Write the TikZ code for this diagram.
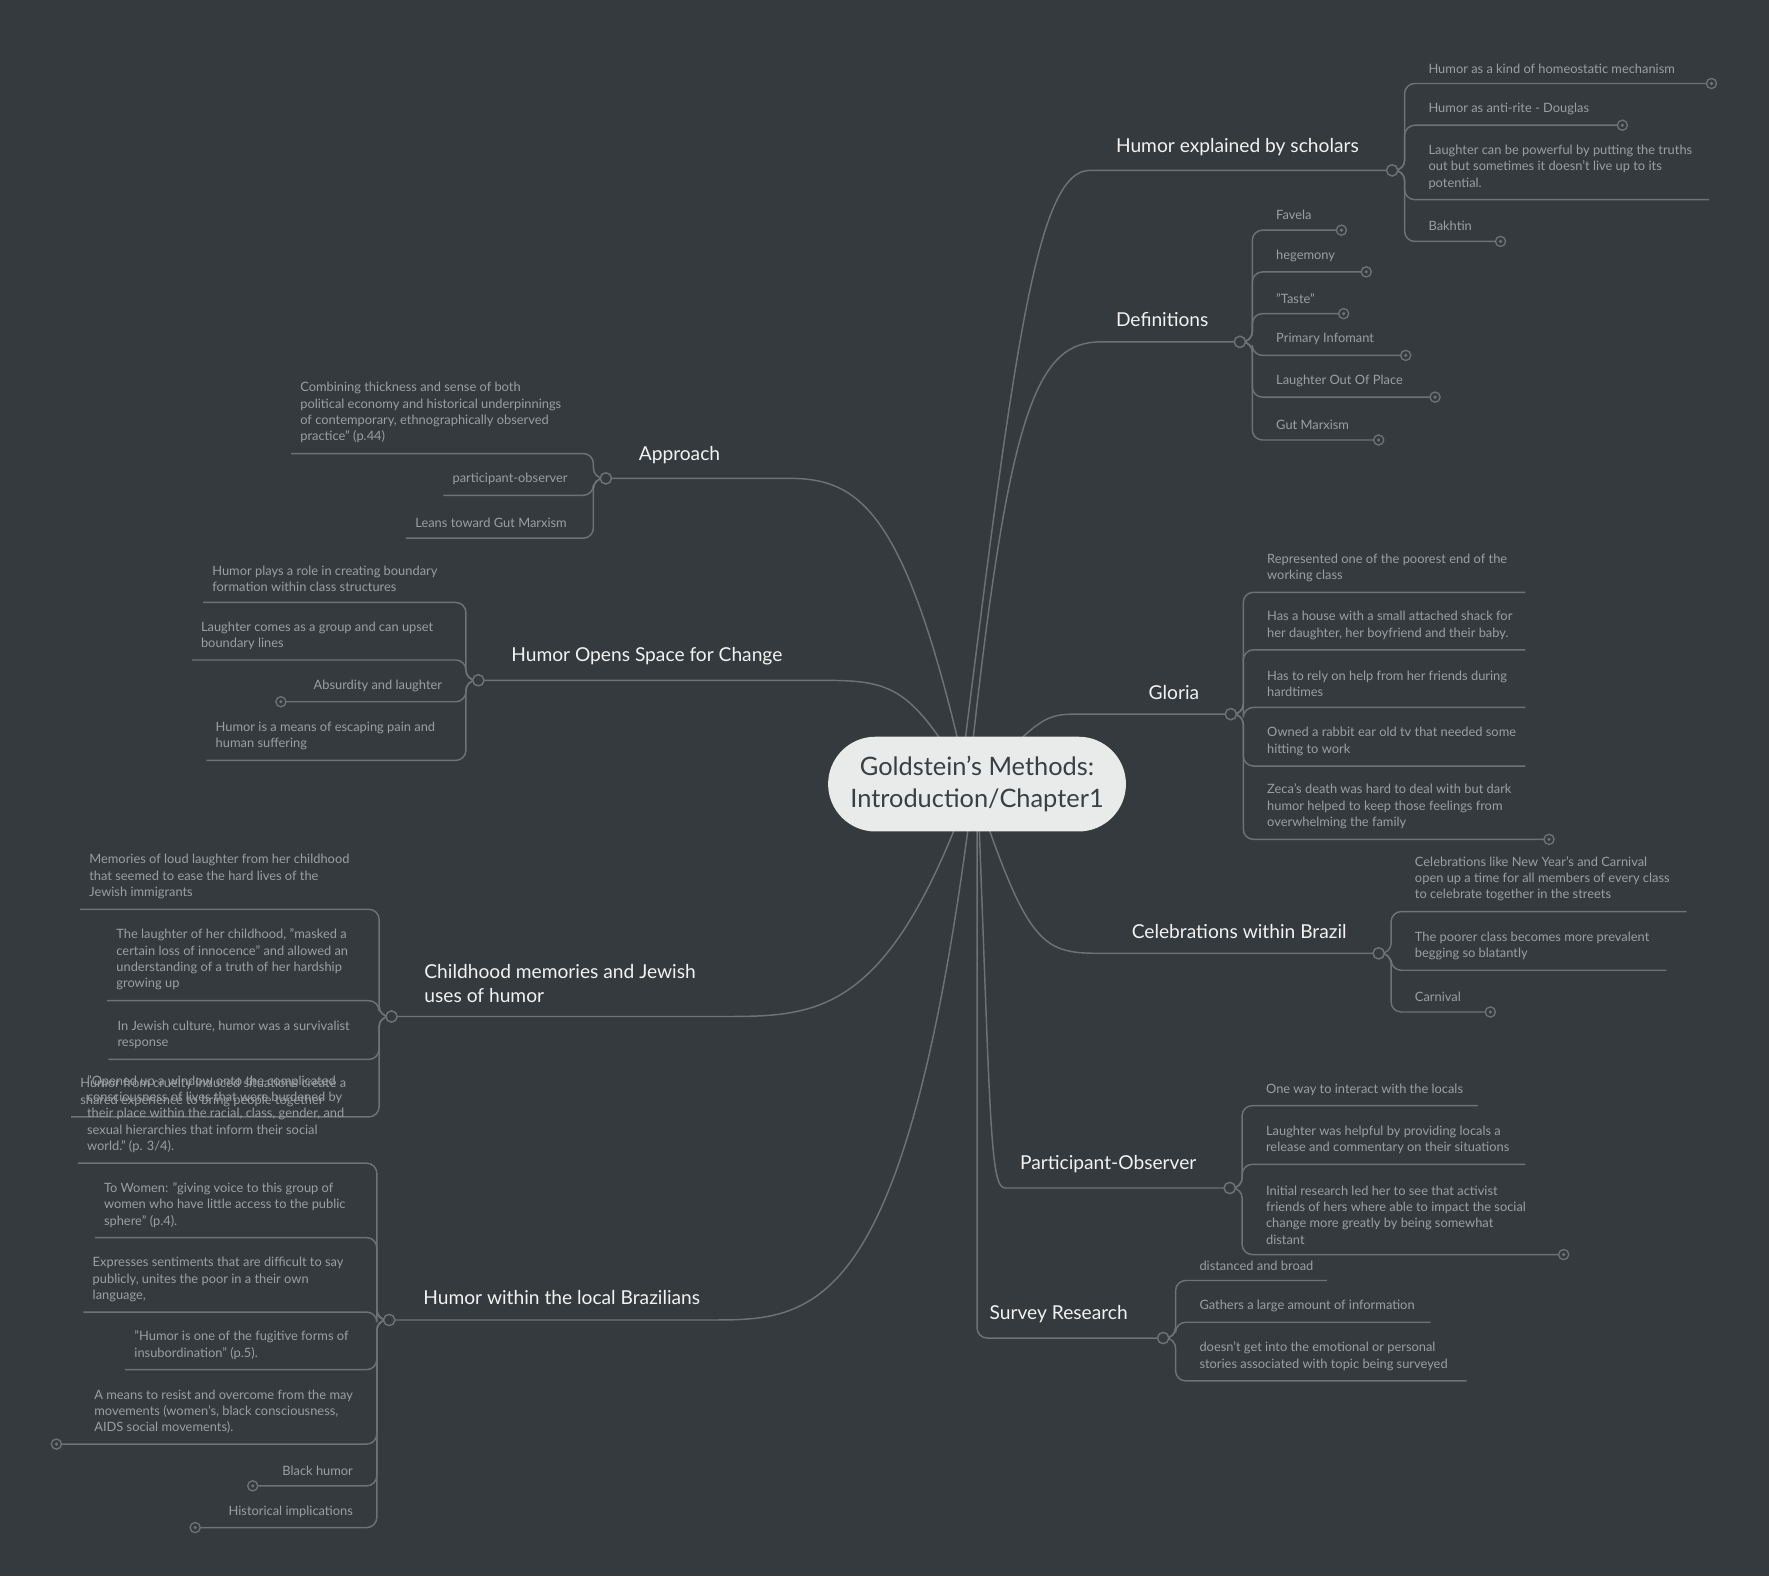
\documentclass[tikz,border=0pt]{standalone}
\usepackage{fontspec}
\setmainfont{Lato}
\definecolor{bg}{HTML}{343A3D}
\definecolor{ln}{HTML}{6E7274}
\definecolor{st}{HTML}{9C9FA1}
\definecolor{mt}{HTML}{F2F2F2}
\definecolor{rootf}{HTML}{E8EBEA}
\definecolor{roott}{HTML}{3A3F42}
\tikzset{
 conn/.style={draw=ln,line width=1.3pt,rounded corners=9pt},
 smalltxt/.style={text=st,font=\fontsize{11.4}{14.5}\selectfont,align=left,inner sep=0pt},
 maintxt/.style={text=mt,font=\fontsize{17}{21.5}\selectfont,align=left,inner sep=0pt},
 junc/.style={draw=ln,line width=1.3pt,fill=bg,circle,minimum size=10pt,inner sep=0pt},
}
\newcommand{\mkr}[2]{\draw[ln,line width=1.2pt,fill=bg] (#1,#2) circle (4.5pt); \fill[ln] (#1,#2) circle (1.6pt);}
% right child: name, cx, cy, ly, ex, marker, text
\newcommand{\rc}[7]{%
 \draw[conn] (#2,#3) -- (#2+11,#3) -- (#2+11,#4) -- (#5,#4);
 \node[smalltxt,anchor=south west] (#1) at (#2+32,#4-9) {#7};
 \ifnum#6=1 \mkr{#5}{#4}\fi}
% left child: name, cx, cy, ly, sx, marker, text
\newcommand{\lc}[7]{%
 \draw[conn] (#2,#3) -- (#2-11,#3) -- (#2-11,#4) -- (#5,#4);
 \ifnum#6=1
 \node[smalltxt,anchor=south east] (#1) at (#2-32,#4-9) {#7};
 \mkr{#5}{#4}
 \else
 \node[smalltxt,anchor=south west] (#1) at (#5+8,#4-9) {#7};
 \fi}
\begin{document}
\begin{tikzpicture}[x=1pt,y=-1pt]
\fill[bg] (0,0) rectangle (1568,1397);
\useasboundingbox (0,0) rectangle (1568,1397);
% main connectors
\draw[conn] (855,660) .. controls (900,300) and (920,151) .. (975,151) -- (1234,151);
\draw[conn] (862,660) .. controls (895,360) and (920,303) .. (985,303) -- (1099,303);
\draw[conn] (895,665) .. controls (925,633) and (935,633) .. (965,633) -- (1091,633);
\draw[conn] (875,730) .. controls (915,845) and (930,845) .. (990,845) -- (1222,845);
\draw[conn] (868,735) .. controls (878,1000) and (878,1053) .. (900,1053) -- (1090,1053);
\draw[conn] (866,735) -- (866,1186) -- (1031,1186);
\draw[conn] (850,660) .. controls (800,450) and (760,424) .. (690,424) -- (537,424);
\draw[conn] (840,665) .. controls (800,603) and (780,603) .. (710,603) -- (424,603);
\draw[conn] (848,730) .. controls (780,901) and (720,901) .. (630,901) -- (347,901);
\draw[conn] (858,735) .. controls (800,1170) and (720,1170) .. (620,1170) -- (345,1170);
% root
\node[fill=rootf,text=roott,rounded corners=42pt,minimum width=264pt,minimum height=84pt,align=center,inner sep=0pt,font=\fontsize{22.5}{28}\selectfont] (root) at (866,695) {Goldstein's Methods:\\Introduction/Chapter1};
% ---- Humor explained by scholars
\node[maintxt,anchor=south west] (hes) at (989,138) {Humor explained by scholars};
\rc{h1}{1234}{151}{74}{1517}{1}{Humor as a kind of homeostatic mechanism}
\rc{h2}{1234}{151}{111}{1438}{1}{Humor as anti-rite - Douglas}
\rc{h3}{1234}{151}{177}{1515}{0}{Laughter can be powerful by putting the truths\\out but sometimes it doesn't live up to its\\potential.}
\rc{h4}{1234}{151}{214}{1330}{1}{Bakhtin}
\node[junc] (jh) at (1234,151) {};
% ---- Definitions
\node[maintxt,anchor=south west] (def) at (989,290) {Definitions};
\rc{d1}{1099}{303}{204}{1189}{1}{Favela}
\rc{d2}{1099}{303}{241}{1211}{1}{hegemony}
\rc{d3}{1099}{303}{278}{1191}{1}{"Taste"}
\rc{d4}{1099}{303}{315}{1246}{1}{Primary Infomant}
\rc{d5}{1099}{303}{352}{1272}{1}{Laughter Out Of Place}
\rc{d6}{1099}{303}{390}{1222}{1}{Gut Marxism}
\node[junc] (jd) at (1099,303) {};
% ---- Gloria
\node[maintxt,anchor=south west] (glo) at (1018,620) {Gloria};
\rc{g1}{1091}{633}{525}{1352}{0}{Represented one of the poorest end of the\\working class}
\rc{g2}{1091}{633}{576}{1352}{0}{Has a house with a small attached shack for\\her daughter, her boyfriend and their baby.}
\rc{g3}{1091}{633}{627}{1352}{0}{Has to rely on help from her friends during\\hardtimes}
\rc{g4}{1091}{633}{679}{1352}{0}{Owned a rabbit ear old tv that needed some\\hitting to work}
\rc{g5}{1091}{633}{744}{1373}{1}{Zeca's death was hard to deal with but dark\\humor helped to keep those feelings from\\overwhelming the family}
\node[junc] (jg) at (1091,633) {};
% ---- Celebrations
\node[maintxt,anchor=south west] (cel) at (1003,832) {Celebrations within Brazil};
\rc{c1}{1222}{845}{808}{1495}{0}{Celebrations like New Year's and Carnival\\open up a time for all members of every class\\to celebrate together in the streets}
\rc{c2}{1222}{845}{860}{1477}{0}{The poorer class becomes more prevalent\\begging so blatantly}
\rc{c3}{1222}{845}{897}{1321}{1}{Carnival}
\node[junc] (jc) at (1222,845) {};
% ---- Participant-Observer
\node[maintxt,anchor=south west] (po) at (904,1040) {Participant-Observer};
\rc{p1}{1090}{1053}{980}{1310}{0}{One way to interact with the locals}
\rc{p2}{1090}{1053}{1032}{1352}{0}{Laughter was helpful by providing locals a\\release and commentary on their situations}
\rc{p3}{1090}{1053}{1112}{1386}{1}{Initial research led her to see that activist\\friends of hers where able to impact the social\\change more greatly by being somewhat\\distant}
\node[junc] (jp) at (1090,1053) {};
% ---- Survey Research
\node[maintxt,anchor=south west] (sr) at (877,1173) {Survey Research};
\rc{s1}{1031}{1186}{1135}{1176}{0}{distanced and broad}
\rc{s2}{1031}{1186}{1172}{1268}{0}{Gathers a large amount of information}
\rc{s3}{1031}{1186}{1224}{1300}{0}{doesn't get into the emotional or personal\\stories associated with topic being surveyed}
\node[junc] (js) at (1031,1186) {};
% ---- Approach
\node[maintxt,anchor=south west] (app) at (566,411) {Approach};
\lc{a1}{537}{424}{402}{258}{0}{Combining thickness and sense of both\\political economy and historical underpinnings\\of contemporary, ethnographically observed\\practice" (p.44)}
\lc{a2}{537}{424}{439}{393}{0}{participant-observer}
\lc{a3}{537}{424}{477}{360}{0}{Leans toward Gut Marxism}
\node[junc] (ja) at (537,424) {};
% ---- Humor Opens Space
\node[maintxt,anchor=south west] (hos) at (453,590) {Humor Opens Space for Change};
\lc{o1}{424}{603}{534}{180}{0}{Humor plays a role in creating boundary\\formation within class structures}
\lc{o2}{424}{603}{585}{170}{0}{Laughter comes as a group and can upset\\boundary lines}
\lc{o3}{424}{603}{622}{249}{1}{Absurdity and laughter}
\lc{o4}{424}{603}{674}{183}{0}{Humor is a means of escaping pain and\\human suffering}
\node[junc] (jo) at (424,603) {};
% ---- Childhood memories
\node[maintxt,anchor=south west] (chm) at (376,889) {Childhood memories and Jewish\\uses of humor};
\lc{m1}{347}{901}{806}{71}{0}{Memories of loud laughter from her childhood\\that seemed to ease the hard lives of the\\Jewish immigrants}
\lc{m2}{347}{901}{887}{95}{0}{The laughter of her childhood, "masked a\\certain loss of innocence" and allowed an\\understanding of a truth of her hardship\\growing up}
\lc{m3}{347}{901}{939}{96}{0}{In Jewish culture, humor was a survivalist\\response}
\lc{m4}{347}{901}{990}{63}{0}{Humor from cruelty induced situations create a\\shared experience to bring people together}
\node[junc] (jm) at (347,901) {};
% ---- Humor within local Brazilians
\node[maintxt,anchor=south west] (hlb) at (375,1157) {Humor within the local Brazilians};
\lc{b1}{345}{1170}{1031}{69}{0}{"Opened up a window onto the complicated\\consciousness of lives that were burdened by\\their place within the racial, class, gender, and\\sexual hierarchies that inform their social\\world." (p. 3/4).}
\lc{b2}{345}{1170}{1097}{84}{0}{To Women: "giving voice to this group of\\women who have little access to the public\\sphere" (p.4).}
\lc{b3}{345}{1170}{1163}{74}{0}{Expresses sentiments that are difficult to say\\publicly, unites the poor in a their own\\language,}
\lc{b4}{345}{1170}{1214}{111}{0}{"Humor is one of the fugitive forms of\\insubordination" (p.5).}
\lc{b5}{345}{1170}{1280}{50}{1}{A means to resist and overcome from the may\\movements (women's, black consciousness,\\AIDS social movements).}
\lc{b6}{345}{1170}{1317}{224}{1}{Black humor}
\lc{b7}{345}{1170}{1354}{173}{1}{Historical implications}
\node[junc] (jb) at (345,1170) {};
\end{tikzpicture}
\end{document}
